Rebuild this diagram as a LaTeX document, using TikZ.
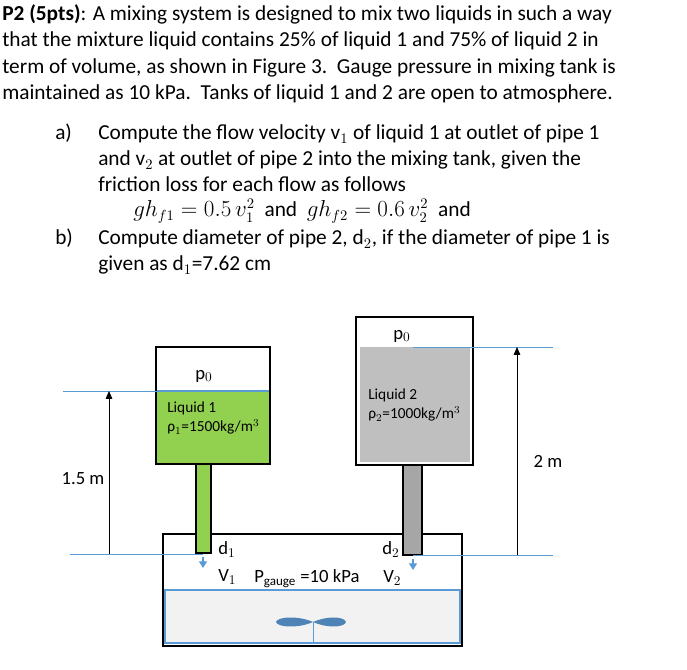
\documentclass[tikz,border=0pt]{standalone}
\usepackage{fontspec}
\setmainfont{Carlito}
\usepackage{amsmath}
\usetikzlibrary{arrows.meta}
\definecolor{lblue}{RGB}{91,155,213}
\definecolor{lgreen}{RGB}{146,208,80}
\begin{document}
\begin{tikzpicture}[x=0.75pt,y=-0.75pt,
  txt/.style={anchor=base west,inner sep=0,font=\fontsize{16}{18}\selectfont},
  lab/.style={anchor=base west,inner sep=0,font=\fontsize{11.5}{13}\selectfont},
  mid/.style={inner sep=0,font=\fontsize{14}{16}\selectfont},
  ref/.style={lblue,line width=0.6pt},
  dim/.style={-{Triangle[length=6pt,width=5pt]},{Triangle[length=6pt,width=5pt]}-,line width=0.6pt},
  thick box/.style={line width=2pt}]
\useasboundingbox (0,0) rectangle (687,670);
% text
\node[txt] (t1) at (2,21) {\textbf{P2 (5pts)}: A mixing system is designed to mix two liquids in such a way};
\node[txt] (t2) at (2,47) {that the mixture liquid contains 25\% of liquid 1 and 75\% of liquid 2 in};
\node[txt] (t3) at (2,74) {term of volume, as shown in Figure 3.\ \ Gauge pressure in mixing tank is};
\node[txt] (t4) at (2,100) {maintained as 10 kPa.\ \ Tanks of liquid 1 and 2 are open to atmosphere.};
\node[txt] (a) at (55,140) {a)};
\node[txt] (a1) at (98,140) {Compute the flow velocity v$_1$ of liquid 1 at outlet of pipe 1};
\node[txt] (a2) at (98,166) {and v$_2$ at outlet of pipe 2 into the mixing tank, given the};
\node[txt] (a3) at (98,192) {friction loss for each flow as follows};
\node[txt] (f) at (133,217) {$gh_{f1}=0.5\,v_1^2$ \ and \ $gh_{f2}=0.6\,v_2^2$ \ and};
\node[txt] (b) at (55,245) {b)};
\node[txt] (b1) at (98,245) {Compute diameter of pipe 2, d$_2$, if the diameter of pipe 1 is};
\node[txt] (b2) at (98,271) {given as d$_1$=7.62 cm};
% tank 1
\draw[fill=lgreen,draw=lblue,line width=1.2pt] (156,391) rectangle (270,464);
\draw[thick box] (156,464) -- (156,347) -- (270,347) -- (270,464) -- cycle;
\draw[lblue,line width=1.2pt] (157,391) -- (269,391);
% tank 2
\draw[thick box,fill=white] (356,317) rectangle (473,465);
\fill[black!25] (360,347) rectangle (470,462);
% mixing tank
\draw[thick box,fill=white] (163,534) rectangle (462,646);
\draw[fill=black!5,draw=lblue,line width=1.2pt] (165,590) rectangle (460,643);
% pipes
\draw[fill=lgreen,line width=1.5pt] (196,464) rectangle (211,553);
\draw[fill=black!35,line width=1.5pt] (403,465) rectangle (422,555);
% reference lines
\draw[ref] (63,391) -- (203,391);
\draw[ref] (70,554) -- (203,554);
\draw[ref] (413,347) -- (553,347);
\draw[ref] (413,555) -- (553,555);
\coordinate (h1t) at (109,391); \coordinate (h1b) at (109,554);
\coordinate (h2t) at (517,347); \coordinate (h2b) at (517,555);
\draw[dim] (h1t) -- (h1b);
\draw[dim] (h2t) -- (h2b);
\node[mid] (l15) at (83,479) {1.5 m};
\node[mid] (l2) at (548,461) {2 m};
% labels
\node[mid] (p01) at (204,376) {p$_0$};
\node[mid] (p02) at (402,336) {p$_0$};
\node[lab] (lq1) at (167,413) {Liquid 1};
\node[lab] (r1) at (167,432) {ρ$_1$=1500kg/m$^3$};
\node[lab] (lq2) at (368,400) {Liquid 2};
\node[lab] (r2) at (368,419) {ρ$_2$=1000kg/m$^3$};
\node[mid,anchor=base west] (d1) at (218,555) {d$_1$};
\node[mid,anchor=base west] (v1) at (218,582) {V$_1$};
\node[mid,anchor=base west] (pg) at (254,583) {P$_{\text{gauge}}$ =10 kPa};
\node[mid,anchor=base west] (d2) at (382,555) {d$_2$};
\node[mid,anchor=base west] (v2) at (383,583) {V$_2$};
% small arrows
\coordinate (s1a) at (203,557); \coordinate (s1b) at (203,568);
\coordinate (s2a) at (413,559); \coordinate (s2b) at (413,570);
\draw[lblue,line width=1pt,-{Triangle[length=5pt,width=6pt]}] (s1a) -- (s1b);
\draw[lblue,line width=1pt,-{Triangle[length=5pt,width=6pt]}] (s2a) -- (s2b);
% propeller
\coordinate (pc) at (313,622);
\draw[lblue,line width=0.7pt] (pc) -- (313,643);
\fill[lblue!85!black] (pc) .. controls (300,616) and (278,616) .. (276,622) .. controls (278,628) and (300,628) .. (pc)
  .. controls (326,616) and (344,616) .. (346,622) .. controls (344,628) and (326,628) .. (pc);
\end{tikzpicture}
\end{document}
